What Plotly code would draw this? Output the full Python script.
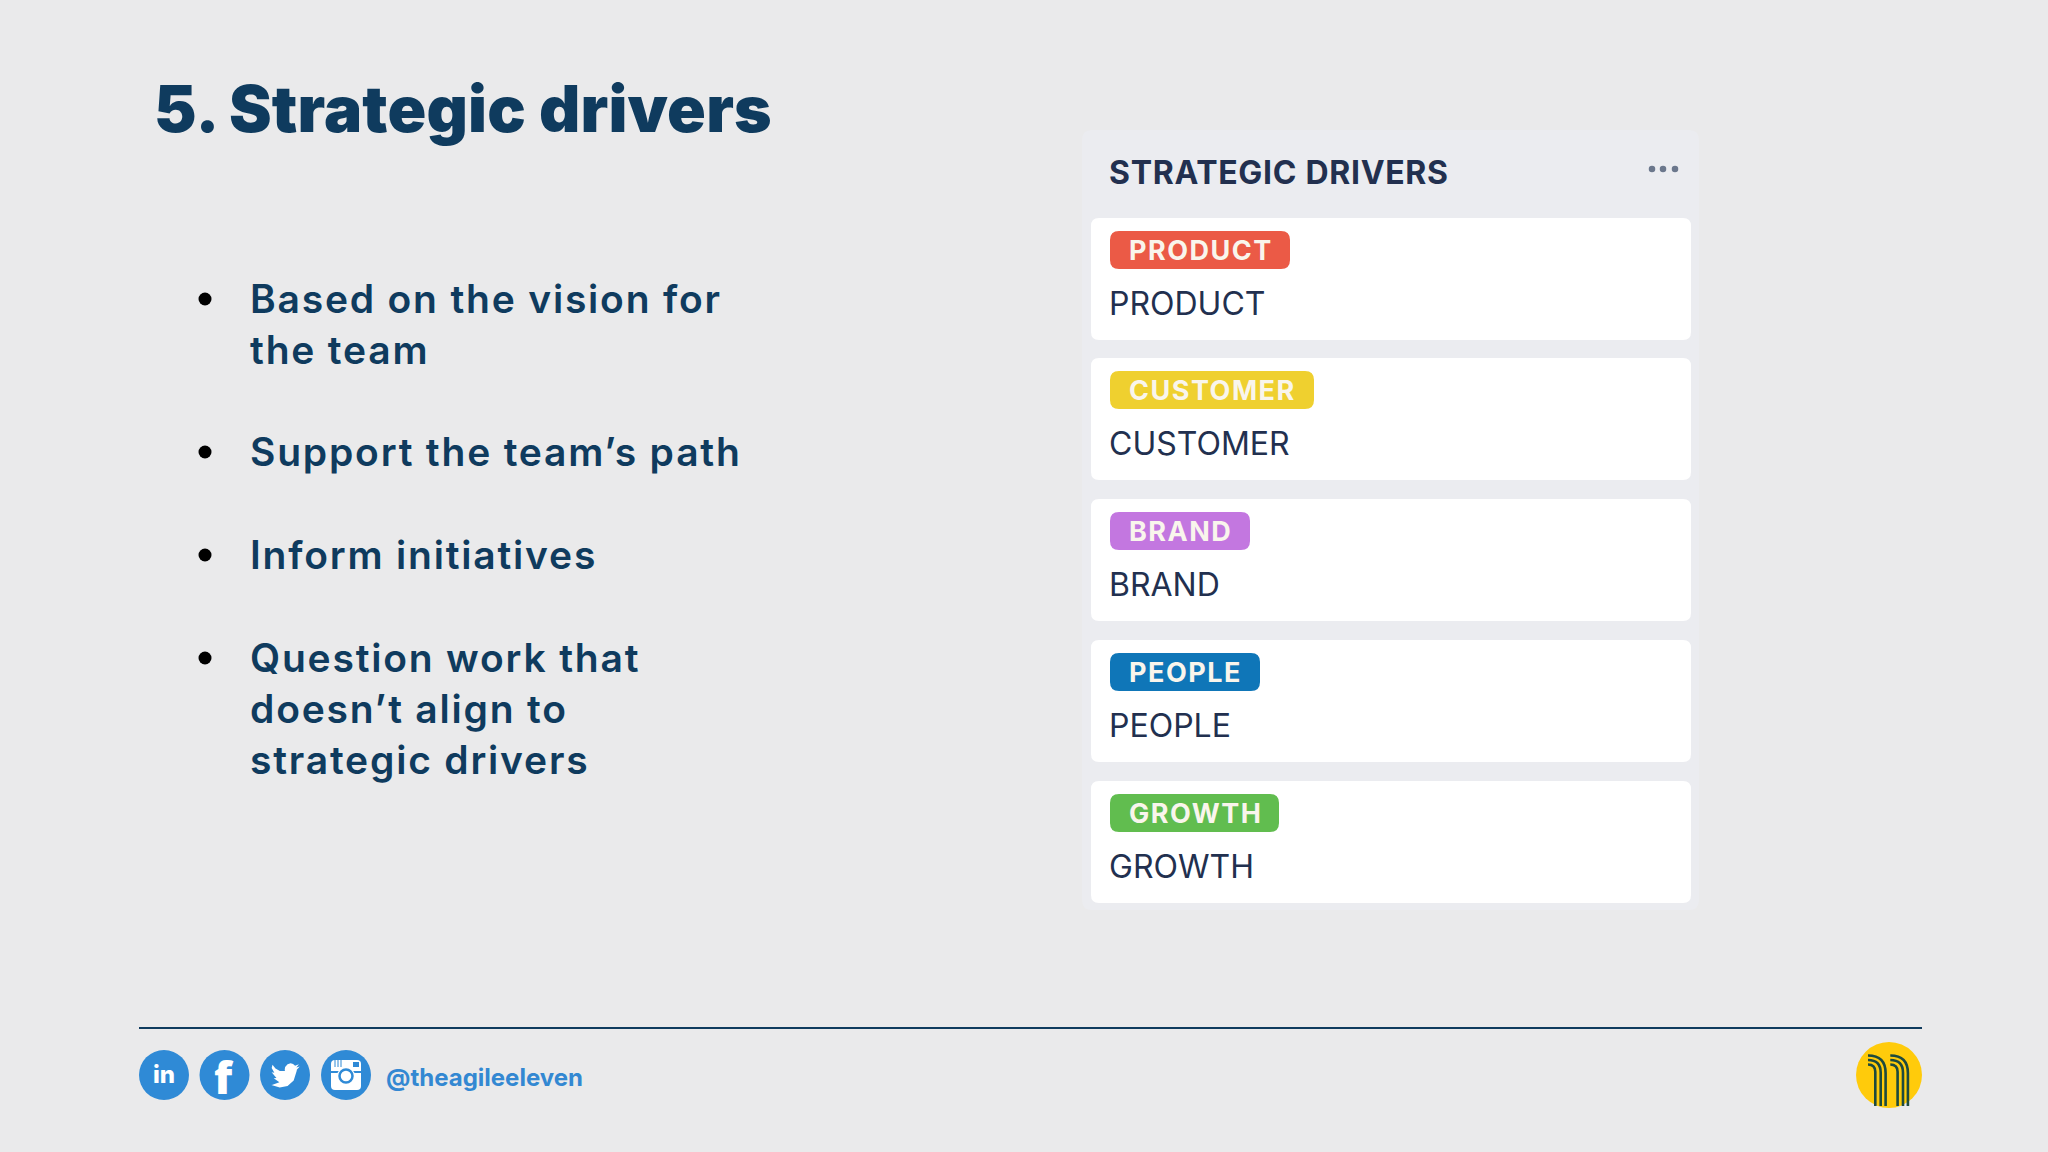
import plotly.graph_objects as go

# slide text
title = '5. Strategic drivers'
header = 'STRATEGIC DRIVERS'
bullets = [
    ['Based on the vision for', 'the team'],
    ['Support the team’s path'],
    ['Inform initiatives'],
    ['Question work that', 'doesn’t align to', 'strategic drivers'],
]
drivers = ['PRODUCT', 'CUSTOMER', 'BRAND', 'PEOPLE', 'GROWTH']
handle = '@theagileeleven'

# styles and layout
badge_colors = ['#EB5A46', '#EFD02F', '#C377E0', '#0F76B8', '#61BD4F']
badge_right = [1290, 1314, 1250, 1260, 1279]
card_top = [218, 358, 499, 640, 781]
bullet_first_y = [299, 452, 555, 658]
navy = '#0F3B5E'
ink = '#22304F'
blue = '#2F8AD6'
BG = '#EAEAEB'
SANS = 'Inter'


def rounded(x0, y0, x1, y1, r):
    return (f'M{x0+r},{y0} L{x1-r},{y0} Q{x1},{y0} {x1},{y0+r} L{x1},{y1-r} Q{x1},{y1} {x1-r},{y1} '
            f'L{x0+r},{y1} Q{x0},{y1} {x0},{y1-r} L{x0},{y0+r} Q{x0},{y0} {x0+r},{y0} Z')


fig = go.Figure()
shapes = []
notes = []


def box(x0, y0, x1, y1, r, color):
    shapes.append(dict(type='path', path=rounded(x0, y0, x1, y1, r), fillcolor=color, line_width=0, layer='below'))


def text(x, y, s, size, color, weight=400, spacing=0, anchor='left', family=SANS):
    if spacing:
        s = f'<span style="letter-spacing:{spacing}px">{s}</span>'
    notes.append(dict(x=x, y=y, text=s, showarrow=False, xanchor=anchor, yanchor='middle',
                      font=dict(family=family, size=size, color=color, weight=weight)))


# left column
text(152, 108, title, 64, navy, weight=900, spacing=0.2)
dot_x, dot_y = [], []
for lines, y0 in zip(bullets, bullet_first_y):
    dot_x.append(205)
    dot_y.append(y0)
    for i, line in enumerate(lines):
        text(247.5, y0 - 1 + i * 51, line, 39, navy, weight=600, spacing=1.8)
fig.add_trace(go.Scatter(x=dot_x, y=dot_y, mode='markers', marker=dict(size=13, color='black'), hoverinfo='skip'))

# board panel
box(1082, 130, 1699, 910, 10, '#EBECF0')
text(1106.5, 172, header, 32, ink, weight=700, spacing=0.7)
fig.add_trace(go.Scatter(x=[1652, 1663, 1675], y=[169, 169, 169], mode='markers',
                         marker=dict(size=6.5, color='#6B778C'), hoverinfo='skip'))
for name, color, right, top in zip(drivers, badge_colors, badge_right, card_top):
    box(1091, top, 1691, top + 122, 8, 'white')
    box(1110, top + 13, right, top + 51, 9, color)
    text(1126.5, top + 32, name, 27, '#F9F5EC', weight=700, spacing=1.5)
    text(1107, top + 85, name, 32, ink)

# footer
shapes.append(dict(type='line', x0=139, x1=1922, y0=1028, y1=1028, line=dict(color=navy, width=2)))
fig.add_trace(go.Scatter(x=[164, 224.5, 285, 346], y=[1075] * 4, mode='markers',
                         marker=dict(size=50, color=blue), hoverinfo='skip'))
text(164, 1074, 'in', 24, 'white', weight=800, anchor='center')
text(224, 1077, 'f', 44, 'white', weight=800, anchor='center', family='Open Sans')

# twitter bird, drawn in a 24 unit box
bird = [(23.95, 4.57), (21.13, 5.35), (23.29, 2.62), (20.16, 3.81), (18.5, 2.4), (16.5, 1.85), (14, 2.7), (12, 5),
        (11.66, 7.04), (11.82, 8.29), (7.69, 8.1), (4.07, 6.13), (1.64, 3.16), (0.97, 5.64), (3.16, 9.73),
        (0.93, 9.12), (4.88, 14.0), (2.67, 14.09), (7.27, 17.5), (1.17, 19.6), (0, 19.54), (7.56, 21.75),
        (14, 20.5), (19, 16), (21.5, 8), (21.55, 7.13)]
bird_path = 'M' + ' L'.join(f'{270.5 + px * 1.22},{1061 + py * 1.22}' for px, py in bird) + ' Z'
shapes.append(dict(type='path', path=bird_path, fillcolor='white', line_width=0))

# instagram camera
shapes.append(dict(type='path', path=rounded(331, 1060, 361, 1090, 4), fillcolor='white', line_width=0))
shapes.append(dict(type='rect', x0=331, x1=361, y0=1071, y1=1073, fillcolor=blue, line_width=0))
shapes.append(dict(type='circle', x0=337, x1=355, y0=1067, y1=1085, fillcolor='white', line_width=0))
shapes.append(dict(type='circle', x0=339.5, x1=352.5, y0=1069.5, y1=1082.5, fillcolor='white',
                   line=dict(color=blue, width=2.5)))
shapes.append(dict(type='rect', x0=353, x1=359, y0=1062, y1=1067, fillcolor=blue, line_width=0))
for sx in [335, 338, 341]:
    shapes.append(dict(type='line', x0=sx, x1=sx, y0=1060, y1=1067, line=dict(color=blue, width=1)))
text(384, 1077, handle, 24, '#3388D2', weight=700)

# logo
shapes.append(dict(type='circle', x0=1856, x1=1922, y0=1042, y1=1108, fillcolor='#FFCB0B', line_width=0))
for off in [0, 22.3]:
    for lx, ty in [(1885.6, 1055.5), (1880.7, 1060), (1875.3, 1064.5)]:
        x = lx + off
        x_start = 1868 + off
        path = f'M{x_start},{ty} Q{x},{ty} {x},{ty + (x - x_start)} L{x},{1106}'
        shapes.append(dict(type='path', path=path, line=dict(color='#1D4A3E', width=2.6)))

fig.update_layout(
    width=2048, height=1152, margin=dict(l=0, r=0, t=0, b=0),
    paper_bgcolor=BG, plot_bgcolor=BG, showlegend=False,
    xaxis=dict(range=[0, 2048], visible=False, fixedrange=True),
    yaxis=dict(range=[1152, 0], visible=False, fixedrange=True),
    shapes=shapes, annotations=notes,
)
fig.write_html('out.html', config={'displayModeBar': False},
               post_script="document.body.style.margin='0';")
